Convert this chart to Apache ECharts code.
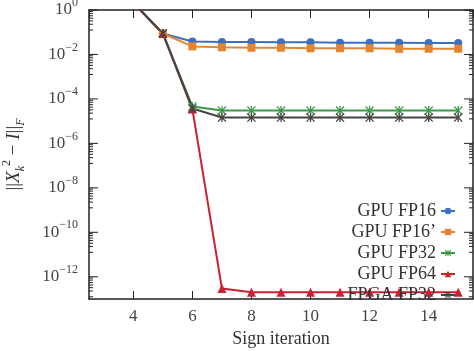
<!DOCTYPE html>
<html lang="en">
  <head>
    <meta charset="UTF-8" />
    <title>Sign iteration</title>
    <script src="https://cdn.jsdelivr.net/npm/echarts@6/dist/echarts.min.js"></script>
    <style>
      html, body { margin: 0; padding: 0; background: #fff; }
      #main { width: 474px; height: 351px; }
    </style>
  </head>
  <body>
    <div id="main"></div>
    <script>
      // data
      const iterations = [4, 5, 6, 7, 8, 9, 10, 11, 12, 13, 14, 15];
      const gpuFp16 = [2.1, 0.088, 0.038, 0.036, 0.036, 0.035, 0.035, 0.034, 0.034, 0.034, 0.033, 0.033];
      const gpuFp16b = [2.1, 0.088, 0.023, 0.021, 0.02, 0.02, 0.019, 0.019, 0.019, 0.018, 0.018, 0.018];
      const gpuFp32 = [2.1, 0.088, 4.6e-5, 3.0e-5, 3.0e-5, 3.0e-5, 3.0e-5, 3.0e-5, 3.0e-5, 3.0e-5, 3.0e-5, 3.0e-5];
      const gpuFp64 = [2.1, 0.088, 3.5e-5, 3e-13, 2e-13, 2e-13, 2e-13, 2e-13, 2e-13, 2e-13, 2e-13, 2e-13];
      const fpgaFp32 = [2.1, 0.088, 3.7e-5, 1.45e-5, 1.45e-5, 1.45e-5, 1.45e-5, 1.45e-5, 1.45e-5, 1.45e-5, 1.45e-5, 1.45e-5];
      const seriesNames = ["GPU FP16", "GPU FP16\u2019", "GPU FP32", "GPU FP64", "FPGA FP32"];
      const seriesColors = ["#3d6fc0", "#e5862f", "#3a9a45", "#cc2030", "#454545"];

      // y ticks: labelled every two decades, minor ticks packed under each one
      const majorTicks = [1, 1e-2, 1e-4, 1e-6, 1e-8, 1e-10, 1e-12];
      const minorOffsets = [0.06, 0.15, 0.26, 0.37, 0.49, 0.64, 0.9];

      const xMin = 2.5, xMax = 15.5, yMin = 1e-13, yMax = 1;
      const font = "'Liberation Serif', 'DejaVu Serif', serif";
      const star = "path://M0,1 L1,0 L5,4 L9,0 L10,1 L6,5 L10,9 L9,10 L5,6 L1,10 L0,9 L4,5 Z M4.3,0 L5.7,0 L5.7,10 L4.3,10 Z";
      const symbols = ["circle", "rect", star, "triangle", star];
      const sizes = [8, 8, 9, 9, 9];
      const allValues = [gpuFp16, gpuFp16b, gpuFp32, gpuFp64, fpgaFp32];

      const tickData = [];
      majorTicks.forEach((m) => {
        tickData.push([xMin, m, 9]);
        minorOffsets.forEach((off) => {
          const v = m * Math.pow(10, -off);
          if (v > yMin) tickData.push([xMin, v, 4]);
        });
      });

      const yLabel = (v) => {
        const e = Math.round(Math.log10(v));
        if (e % 2 !== 0) return "";
        return "10{s|" + (e === 0 ? "0" : "\u2212" + -e) + "}";
      };

      const chart = echarts.init(document.getElementById("main"));
      chart.setOption({
        animation: false,
        grid: { left: 89, right: 1, top: 10, bottom: 52, outerBoundsMode: "none" },
        legend: {
          orient: "vertical",
          right: 13,
          top: 197,
          align: "right",
          itemGap: 3,
          itemWidth: 14,
          itemHeight: 8,
          data: seriesNames,
          textStyle: { fontFamily: font, fontSize: 18, color: "#333" },
        },
        xAxis: [
          {
            type: "value",
            min: xMin,
            max: xMax,
            splitNumber: 6,
            name: "Sign iteration",
            nameLocation: "middle",
            nameGap: 31,
            nameTextStyle: { fontFamily: font, fontSize: 18, color: "#333" },
            axisLine: { lineStyle: { color: "#222", width: 1.5 } },
            axisTick: { inside: true, length: 8, lineStyle: { color: "#222" } },
            axisLabel: { fontFamily: font, fontSize: 17, color: "#444", margin: 9, showMinLabel: false, showMaxLabel: false },
            splitLine: { show: false },
          },
          {
            type: "value",
            position: "top",
            min: xMin,
            max: xMax,
            splitNumber: 6,
            axisLine: { lineStyle: { color: "#222", width: 1.5 } },
            axisTick: { inside: true, length: 8, lineStyle: { color: "#222" } },
            axisLabel: { show: false },
            splitLine: { show: false },
          },
        ],
        yAxis: [
          {
            type: "log",
            logBase: 10,
            min: yMin,
            max: yMax,
            interval: 1,
            name: "||{i|X}{b|k}{t|2} \u2212 {i|I}||{b|F}",
            nameLocation: "middle",
            nameRotate: 90,
            nameGap: 62,
            nameTextStyle: {
              fontFamily: font,
              fontSize: 19,
              color: "#333",
              lineHeight: 26,
              rich: {
                i: { fontFamily: font, fontSize: 19, fontStyle: "italic", color: "#333" },
                b: { fontFamily: font, fontSize: 12, fontStyle: "italic", color: "#333", verticalAlign: "bottom", lineHeight: 13 },
                t: { fontFamily: font, fontSize: 12, color: "#333", verticalAlign: "top", lineHeight: 13 },
              },
            },
            axisLine: { lineStyle: { color: "#222", width: 1.5 } },
            axisTick: { show: false },
            axisLabel: {
              fontFamily: font,
              fontSize: 17,
              color: "#444",
              lineHeight: 26,
              margin: 11,
              formatter: yLabel,
              rich: {
                s: { fontSize: 12, fontFamily: font, color: "#444", verticalAlign: "top", lineHeight: 13 },
              },
            },
            splitLine: { show: false },
          },
          {
            type: "log",
            logBase: 10,
            min: yMin,
            max: yMax,
            interval: 1,
            position: "right",
            axisLine: { lineStyle: { color: "#222", width: 1.5 } },
            axisTick: { show: false },
            axisLabel: { show: false },
            splitLine: { show: false },
          },
        ],
        series: seriesNames
          .map((name, k) => ({
            name,
            type: "line",
            xAxisIndex: 0,
            yAxisIndex: 0,
            data: iterations.map((x, i) => [x, allValues[k][i]]),
            symbol: symbols[k],
            symbolSize: sizes[k],
            showAllSymbol: true,
            color: seriesColors[k],
            lineStyle: { width: 2, color: seriesColors[k] },
            itemStyle: { color: seriesColors[k] },
          }))
          .concat([
            {
              type: "custom",
              name: "yticks",
              silent: true,
              xAxisIndex: 0,
              yAxisIndex: 0,
              encode: { x: 0, y: 1 },
              data: tickData,
              z: 5,
              renderItem: (params, api) => {
                const v = api.value(1);
                const len = api.value(2);
                const l = api.coord([xMin, v]);
                const r = api.coord([xMax, v]);
                const st = { stroke: "#222", lineWidth: 1 };
                return {
                  type: "group",
                  children: [
                    { type: "line", shape: { x1: l[0], y1: l[1], x2: l[0] + len, y2: l[1] }, style: st },
                    { type: "line", shape: { x1: r[0] - len, y1: r[1], x2: r[0], y2: r[1] }, style: st },
                  ],
                };
              },
            },
          ]),
      });
    </script>
  </body>
</html>
